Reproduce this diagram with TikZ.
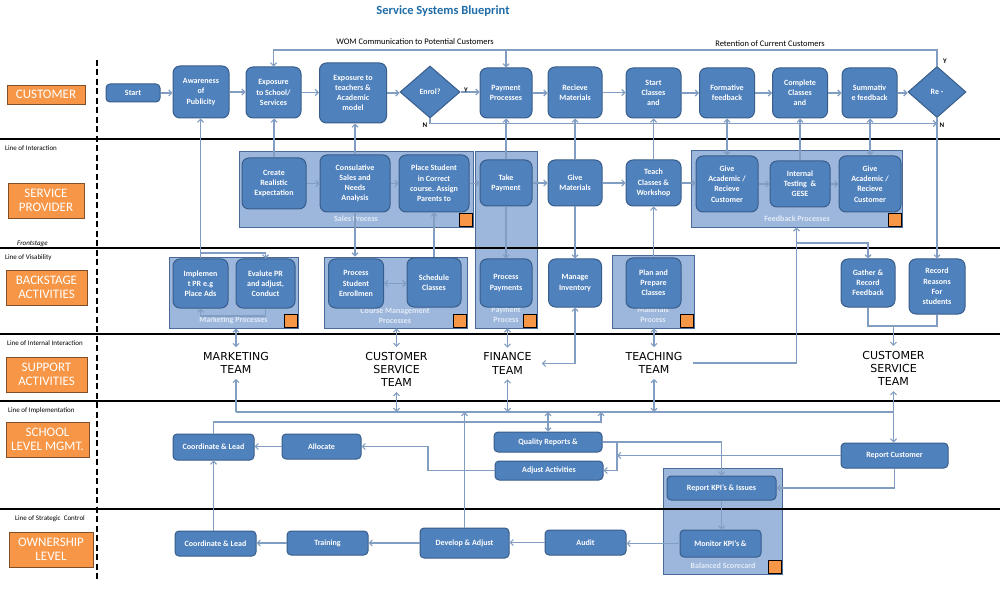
\documentclass[tikz,border=0pt]{standalone}
\usepackage{fontspec}
\setmainfont{Carlito}
\newfontfamily\teamfont{DejaVu Sans}
\usetikzlibrary{arrows.meta,shapes.geometric,calc}
\definecolor{boxfill}{HTML}{4F81BD}
\definecolor{boxline}{HTML}{385D8A}
\definecolor{grpfill}{HTML}{9DB7DC}
\definecolor{grpline}{HTML}{4A6A9A}
\definecolor{grptext}{HTML}{E3EBF6}
\definecolor{conncol}{HTML}{819DC2}
\definecolor{orangefill}{HTML}{F79646}
\definecolor{orangeline}{HTML}{7F4F2A}
\definecolor{titlecol}{HTML}{1F6DA8}
\begin{document}
\begin{tikzpicture}[x=1pt,y=-1pt,
  box/.style={draw=boxline, fill=boxfill, line width=1pt, rounded corners=7pt, text=white, align=center, font=\bfseries\fontsize{8}{10.2}\selectfont, inner sep=1pt},
  flat/.style={box, rounded corners=4pt},
  dia/.style={diamond, draw=boxline, fill=boxfill, line width=1pt, text=white, font=\bfseries\fontsize{8}{10}\selectfont, inner sep=0pt},
  sz/.style 2 args={minimum width=#1, minimum height=#2},
  grp/.style={draw=grpline, fill=grpfill, line width=0.9pt},
  grplabel/.style={text=grptext, font=\bfseries\fontsize{8}{10}\selectfont, align=center, inner sep=0pt},
  note/.style={draw=black, fill=orangefill, line width=0.6pt, minimum size=13, inner sep=0pt, anchor=south east},
  lanelabel/.style={draw=orangeline, fill=orangefill, line width=0.8pt, text=white, align=center, font=\fontsize{13}{13.5}\selectfont, inner sep=0pt},
  lineof/.style={anchor=west, font=\fontsize{7}{8}\selectfont, inner sep=0pt},
  team/.style={font=\teamfont\fontsize{11}{13.3}\selectfont, align=center, inner xsep=10, inner ysep=5},
  conn/.style={draw=conncol, line width=1.1pt},
  >={Straight Barb[length=3pt,width=6pt]},
  yn/.style={font=\bfseries\fontsize{7}{8}\selectfont, inner sep=0pt},
  lane/.style={line width=1.7pt, black},
  toplabel/.style={font=\fontsize{8.5}{10}\selectfont, inner sep=0pt}
]
\fill[white] (0,0) rectangle (1000,593);
\useasboundingbox (0,0) rectangle (1000,593);

% title
\node[font=\bfseries\fontsize{12.5}{14}\selectfont, text=titlecol] (title) at (443,11.5) {Service Systems Blueprint};

% groups
\node[grp, sz={234}{76}] (gsales) at (356,189) {};
\node[grp, sz={62}{177}] (gpay) at (506,239.5) {};
\node[grp, sz={211}{77}] (gfb) at (796.5,188.5) {};
\node[grp, sz={129}{71}] (gmkt) at (233.5,292.5) {};
\node[grp, sz={143}{71}] (gcrs) at (395.5,292.5) {};
\node[grp, sz={82}{73}] (gmat) at (653,291.5) {};
\node[grp, sz={119}{106}] (gbsc) at (722.5,521) {};

\node[grplabel] (lsales) at (356,219) {Sales Process};
\node[grplabel] (lpay) at (506,315) {Payment\\Process};
\node[grplabel] (lfb) at (797,219) {Feedback Processes};
\node[grplabel] (lmkt) at (233.5,320) {Marketing Processes};
\node[grplabel] (lcrs) at (395,316) {Course Management\\Processes};
\node[grplabel] (lmat) at (653,314.5) {Materials\\Process};
\node[grplabel] (lbsc) at (723,566) {Balanced Scorecard};

\node[note] (nt1) at ($(gsales.south east)+(-1,-1)$) {};
\node[note] (nt2) at ($(gpay.south east)+(-1,-1)$) {};
\node[note] (nt3) at ($(gfb.south east)+(-1,-1)$) {};
\node[note] (nt4) at ($(gmkt.south east)+(-1,-1)$) {};
\node[note] (nt5) at ($(gcrs.south east)+(-1,-1)$) {};
\node[note] (nt6) at ($(gmat.south east)+(-1,-1)$) {};
\node[note] (nt7) at ($(gbsc.south east)+(-1,-1)$) {};

% lane lines
\draw[lane] (0,139) -- (1000,139);
\draw[lane] (0,248) -- (1000,248);
\draw[lane] (0,334) -- (1000,334);
\draw[lane] (0,401) -- (1000,401);
\draw[lane] (0,509) -- (1000,509);
\draw[line width=1.8pt, dash pattern=on 6pt off 3.5pt] (97,60) -- (97,582);

% lane labels
\node[lanelabel, sz={78}{19}] (lCust) at (46,94.5) {CUSTOMER};
\node[lanelabel, sz={76}{35}] (lSP) at (46,200.5) {SERVICE\\PROVIDER};
\node[lanelabel, sz={81}{35}] (lBS) at (46.5,287.5) {BACKSTAGE\\ACTIVITIES};
\node[lanelabel, sz={81}{35}] (lSA) at (46.5,374.5) {SUPPORT\\ACTIVITIES};
\node[lanelabel, sz={83}{35}] (lSL) at (47.5,439.5) {SCHOOL\\LEVEL MGMT.};
\node[lanelabel, sz={84}{35}] (lOL) at (51,549.5) {OWNERSHIP\\LEVEL};

\node[lineof] (loi) at (5,148) {Line of Interaction};
\node[lineof, font=\itshape\fontsize{7}{8}\selectfont] (front) at (17,243.5) {Frontstage};
\node[lineof] (lov) at (5,258) {Line of Visability};
\node[lineof] (lii) at (7,343) {Line of Internal Interaction};
\node[lineof] (limp) at (8,411) {Line of Implementation};
\node[lineof] (lsc) at (15,519) {Line of Strategic\ \ Control};

% customer row
\node[flat, sz={54}{18}] (start) at (133,93) {Start};
\node[box, sz={56}{52}] (aware) at (201,92) {Awareness\\of\\Publicity};
\node[box, sz={55}{51}] (expS) at (273.5,92.5) {Exposure\\to School/\\Services};
\node[box, sz={67}{60}] (expT) at (353,93) {Exposure to\\teachers \&\\Academic\\model};
\node[dia, sz={60}{52}] (enrol) at (430,92) {Enrol?};
\node[box, sz={52}{50}] (pay) at (506,93) {Payment\\Processes};
\node[box, sz={54}{51}] (recv) at (575,92.5) {Recieve\\Materials};
\node[box, sz={55}{50}] (startc) at (653.5,93) {Start\\Classes\\and};
\node[box, sz={55}{50}] (form) at (727,93) {Formative\\feedback};
\node[box, sz={55}{50}] (compl) at (800,93) {Complete\\Classes\\and};
\node[box, sz={55}{50}] (summ) at (869.5,93) {Summativ\\e feedback};
\node[dia, sz={58}{51}] (re) at (937,92) {Re -};

% service provider row
\node[box, sz={64}{51}] (create) at (274,183.5) {Create\\Realistic\\Expectation};
\node[box, sz={70}{57}] (consul) at (355,183.5) {Consulative\\Sales and\\Needs\\Analysis};
\node[box, sz={70}{57}] (place) at (434,183.5) {Place Student\\in Correct\\course. Assign\\Parents to};
\node[box, sz={52}{46}] (take) at (506,183) {Take\\Payment};
\node[box, sz={54}{46}] (give) at (575,183) {Give\\Materials};
\node[box, sz={55}{46}] (teach) at (653.5,183) {Teach\\Classes \&\\Workshop};
\node[box, sz={62}{56}] (ga1) at (727,184) {Give\\Academic /\\Recieve\\Customer};
\node[box, sz={60}{46}] (itest) at (800,184) {Internal\\Testing\ \ \&\\GESE};
\node[box, sz={62}{56}] (ga2) at (870,184) {Give\\Academic /\\Recieve\\Customer};

% backstage row
\node[box, sz={55}{49}] (impl) at (200.5,283.5) {Implemen\\t PR e.g\\Place Ads};
\node[box, sz={59}{49}] (eval) at (265.5,283.5) {Evalute PR\\and adjust,\\Conduct};
\node[box, sz={55}{49}] (procS) at (356,283.5) {Process\\Student\\Enrollmen};
\node[box, sz={54}{49}] (sched) at (434,282.5) {Schedule\\Classes};
\node[box, sz={52}{48}] (procP) at (506,283) {Process\\Payments};
\node[box, sz={53}{48}] (manage) at (575,283) {Manage\\Inventory};
\node[box, sz={55}{50}] (plan) at (653.5,283) {Plan and\\Prepare\\Classes};
\node[box, sz={54}{48}] (gather) at (868,283) {Gather \&\\Record\\Feedback};
\node[box, sz={56}{55}] (recr) at (937,286.5) {Record\\Reasons\\For\\students};

% support teams
\node[team] (mktT) at (236,363) {MARKETING\\TEAM};
\node[team] (cs1T) at (396.5,369.5) {CUSTOMER\\SERVICE\\TEAM};
\node[team] (finT) at (507.5,363.5) {FINANCE\\TEAM};
\node[team] (teachT) at (654,363) {TEACHING\\TEAM};
\node[team] (cs2T) at (893.5,368.5) {CUSTOMER\\SERVICE\\TEAM};

% school level
\node[flat, sz={81}{26}] (coord1) at (213.5,447) {Coordinate \& Lead};
\node[flat, sz={79}{25}] (alloc) at (321.5,446.5) {Allocate};
\node[flat, sz={108}{20}] (qual) at (548,442) {Quality Reports \&};
\node[flat, sz={108}{19}] (adj) at (549,470.5) {Adjust Activities};
\node[flat, sz={107}{25}] (repc) at (894.5,455.5) {Report Customer};
\node[flat, sz={109}{24}] (kpi) at (721.5,488) {Report KPI’s \& Issues};

% ownership level
\node[flat, sz={81}{27}] (mon) at (720.5,543.5) {Monitor KPI’s \&};
\node[flat, sz={81}{25}] (audit) at (585.5,542.5) {Audit};
\node[flat, sz={89}{30}] (dev) at (464.5,543) {Develop \& Adjust};
\node[flat, sz={81}{24}] (train) at (327.5,543) {Training};
\node[flat, sz={81}{25}] (coord2) at (215.5,543.5) {Coordinate \& Lead};

% helper coordinates
\coordinate (yWOM) at (0,50);
\coordinate (yN) at (0,123.5);
\coordinate (yBr) at (0,253);
\coordinate (yLoop) at (0,316);
\coordinate (yFb) at (0,243);
\coordinate (yJoin) at (0,326);
\coordinate (yTop) at (0,412);
\coordinate (c601) at (601,422);
\coordinate (x617) at (617,0);
\coordinate (x428) at (428,0);

% customer connectors
\draw[conn,->] (start.east) -- (start.east -| aware.west);
\draw[conn,->] (aware.east) -- (aware.east -| expS.west);
\draw[conn,->] (expS.east) -- (expS.east -| expT.west);
\draw[conn,->] (expT.east) -- (expT.east -| enrol.west);
\draw[conn,->] (enrol.east) -- (enrol.east -| pay.west);
\draw[conn,->] (pay.east) -- (pay.east -| recv.west);
\draw[conn,->] (recv.east) -- (recv.east -| startc.west);
\draw[conn,->] (startc.east) -- (startc.east -| form.west);
\draw[conn,->] (form.east) -- (form.east -| compl.west);
\draw[conn,->] (compl.east) -- (compl.east -| summ.west);
\draw[conn,->] (summ.east) -- (summ.east -| re.west);
\draw[conn,->] (re.north) -- (re.north |- yWOM) -| (expS.north);
\draw[conn,->] (pay.north |- yWOM) -- (pay.north);
\draw[conn,->] (enrol.south) -- (enrol.south |- yN) -- (re.south |- yN);
\draw[conn,->] (re.south) -- (re.south |- recr.north);

\node[toplabel] (wom) at (415,42) {WOM Communication to Potential Customers};
\node[toplabel] (ret) at (770,44) {Retention of Current Customers};
\node[yn] (yl1) at (466,90) {Y};
\node[yn] (yl2) at (945,61) {Y};
\node[yn] (nl1) at (425,125) {N};
\node[yn] (nl2) at (942,125.5) {N};

% service <-> customer
\draw[conn,->] (impl.north) -- (impl.north |- aware.south);
\draw[conn,->] (impl.north |- yBr) -| (eval.north);
\draw[conn,->] (eval.south) -- (eval.south |- yLoop) -| (impl.south);
\draw[conn,->] (create.north) -- (create.north |- expS.south);
\draw[conn,->] (consul.north) -- (consul.north |- expT.south);
\draw[conn,->] (take.north) -- (take.north |- pay.south);
\draw[conn,->] (give.north) -- (give.north |- recv.south);
\draw[conn,->] (teach.north) -- (teach.north |- startc.south);
\draw[conn,<->] (ga1.north) -- (ga1.north |- form.south);
\draw[conn,->] (itest.north) -- (itest.north |- compl.south);
\draw[conn,<->] (ga2.north) -- (ga2.north |- summ.south);

% service row
\draw[conn,->] (create.east) -- (create.east -| consul.west);
\draw[conn,->] (consul.east) -- (consul.east -| place.west);
\draw[conn,->] (place.east) -- (place.east -| take.west);
\draw[conn,->] (take.east) -- (take.east -| give.west);
\draw[conn,->] (give.east) -- (give.east -| teach.west);
\draw[conn,->] (teach.east) -- (teach.east -| ga1.west);
\draw[conn,->] (ga1.east) -- (ga1.east -| itest.west);
\draw[conn,->] (itest.east) -- (itest.east -| ga2.west);

% service <-> backstage
\draw[conn,->] (take.south) -- (take.south |- procP.north);
\draw[conn,->] (give.south) -- (give.south |- manage.north);
\draw[conn,->] (consul.south) -- (consul.south |- gcrs.north);
\draw[conn,->] (sched.north) -- (sched.north |- place.south);
\draw[conn,<->] (procS.east) -- (procS.east -| sched.west);
\draw[conn,->] (plan.north) -- (plan.north |- teach.south);

% feedback
\draw[conn,->] (teachT.east) -| (gfb.south);
\draw[conn,->] (gfb.south |- yFb) -| (gather.north);
\draw[conn] (gather.south) |- (recr.south |- yJoin) -- (recr.south);
\draw[conn,->] (cs2T.north |- yJoin) -- (cs2T.north);

% support
\draw[conn,<->] (gmkt.south -| mktT.north) -- (mktT.north);
\draw[conn,<->] (gcrs.south -| cs1T.north) -- (cs1T.north);
\draw[conn,<->] (gpay.south -| finT.north) -- (finT.north);
\draw[conn,<->] (manage.south) |- (finT.east);
\draw[conn,<->] (gmat.south -| teachT.north) -- (teachT.north);

\draw[conn] (mktT.south |- yTop) -- (cs2T.south |- yTop);
\draw[conn,->] (mktT.south |- yTop) -- (mktT.south);
\draw[conn,<->] (cs1T.south) -- (cs1T.south |- yTop);
\draw[conn,<->] (finT.south) -- (finT.south |- yTop);
\draw[conn,<->] (teachT.south) -- (teachT.south |- yTop);
\draw[conn,<->] (cs2T.south) -- (cs2T.south |- repc.north);
\draw[conn,<->] (qual.north |- yTop) -- (qual.north);
\draw[conn,->] (coord1.north) |- (c601) -- (c601 |- yTop);
\draw[conn,->] (dev.north) -- (dev.north |- yTop);

% school level
\draw[conn,->] (qual.east) -| (kpi.north);
\draw[conn,->] (qual.east -| x617) |- (adj.east);
\draw[conn,->] (repc.west) -- (repc.west -| x617);
\draw[conn,->] (repc.south) |- (kpi.east);
\draw[conn,->] (kpi.south) -- (kpi.south |- mon.north);
\draw[conn,->] (adj.west) -- (adj.west -| x428) |- (alloc.east);
\draw[conn,->] (alloc.west) -- (alloc.west -| coord1.east);

% ownership level
\draw[conn,->] (mon.west) -- (mon.west -| audit.east);
\draw[conn,->] (audit.west) -- (audit.west -| dev.east);
\draw[conn,->] (dev.west) -- (dev.west -| train.east);
\draw[conn,->] (train.west) -- (train.west -| coord2.east);
\draw[conn,->] (coord1.south |- coord2.north) -- (coord1.south);
\end{tikzpicture}
\end{document}
